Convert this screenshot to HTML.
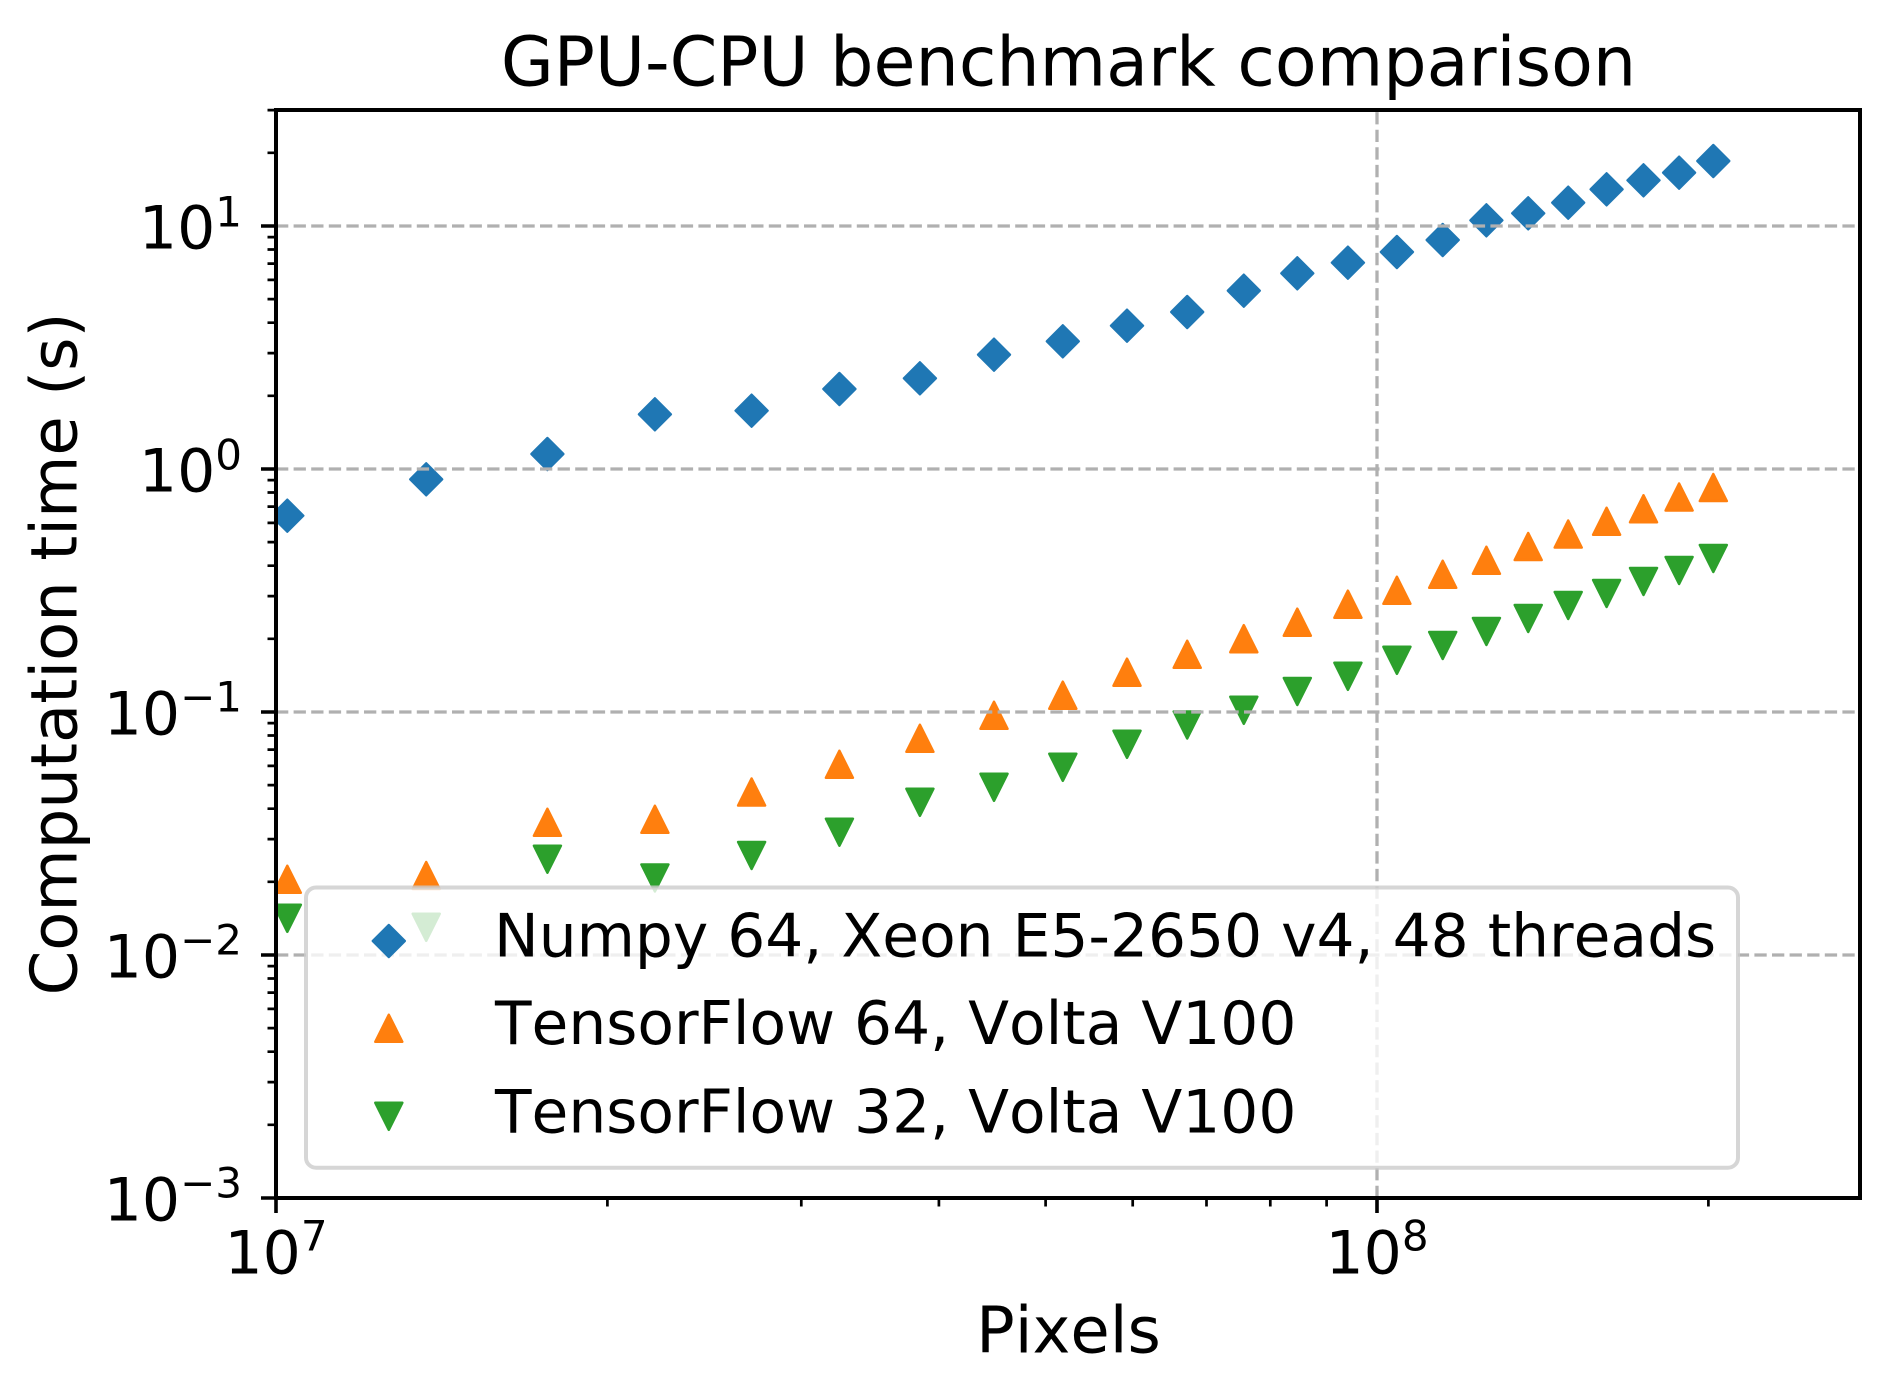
<!DOCTYPE html>
<html>
<head>
<meta charset="utf-8">
<style>
html,body{margin:0;padding:0;background:#fff;}
svg{display:block;}
text{font-family:"DejaVu Sans","Liberation Sans",sans-serif;fill:#000;font-kerning:none;}
</style>
</head>
<body>
<svg width="1883" height="1392" viewBox="0 0 1883 1392" xmlns="http://www.w3.org/2000/svg">
<defs>
  <clipPath id="ax"><rect x="276" y="110" width="1584" height="1088"/></clipPath>
  <path id="dia" d="M0,-16 L16,0 L0,16 L-16,0 Z" fill="#1f77b4" stroke="#1f77b4" stroke-width="2.4" stroke-linejoin="round"/>
  <path id="tup" d="M0,-13.5 L13.5,13.5 L-13.5,13.5 Z" fill="#ff7f0e" stroke="#ff7f0e" stroke-width="2.5" stroke-linejoin="round"/>
  <path id="tdn" d="M0,13.5 L13.5,-13.5 L-13.5,-13.5 Z" fill="#2ca02c" stroke="#2ca02c" stroke-width="2.5" stroke-linejoin="round"/>
</defs>
<rect width="1883" height="1392" fill="#fff"/>

<!-- data -->
<g clip-path="url(#ax)">
  <g>
    <use href="#dia" x="287.3" y="515.7"/><use href="#dia" x="426.2" y="479.3"/><use href="#dia" x="547.4" y="454"/>
    <use href="#dia" x="654.9" y="414.3"/><use href="#dia" x="751.6" y="410.7"/><use href="#dia" x="839.4" y="389"/>
    <use href="#dia" x="919.9" y="378.3"/><use href="#dia" x="994" y="354.7"/><use href="#dia" x="1062.8" y="341.3"/>
    <use href="#dia" x="1127" y="325.7"/><use href="#dia" x="1187.2" y="312"/><use href="#dia" x="1243.8" y="290.7"/>
    <use href="#dia" x="1297.3" y="273.3"/><use href="#dia" x="1347.9" y="262.7"/><use href="#dia" x="1396.9" y="252"/>
    <use href="#dia" x="1442.7" y="240"/><use href="#dia" x="1486.4" y="220.3"/><use href="#dia" x="1528.2" y="213.3"/>
    <use href="#dia" x="1568.2" y="202.7"/><use href="#dia" x="1606.6" y="189.3"/><use href="#dia" x="1643.5" y="180.3"/>
    <use href="#dia" x="1679.1" y="172.7"/><use href="#dia" x="1713.3" y="161"/>
  </g>
  <g>
    <use href="#tup" x="287.3" y="879.3"/><use href="#tup" x="426.2" y="875.5"/><use href="#tup" x="547.4" y="822.3"/>
    <use href="#tup" x="654.9" y="819.3"/><use href="#tup" x="751.6" y="792"/><use href="#tup" x="839.4" y="764.3"/>
    <use href="#tup" x="919.9" y="738.3"/><use href="#tup" x="994" y="715.3"/><use href="#tup" x="1062.8" y="695.2"/>
    <use href="#tup" x="1127" y="672.2"/><use href="#tup" x="1187.2" y="654.3"/><use href="#tup" x="1243.8" y="638.7"/>
    <use href="#tup" x="1297.3" y="622.2"/><use href="#tup" x="1347.9" y="604.2"/><use href="#tup" x="1396.9" y="590.3"/>
    <use href="#tup" x="1442.7" y="574.3"/><use href="#tup" x="1486.4" y="560.3"/><use href="#tup" x="1528.2" y="546.5"/>
    <use href="#tup" x="1568.2" y="534"/><use href="#tup" x="1606.6" y="521.3"/><use href="#tup" x="1643.5" y="508.8"/>
    <use href="#tup" x="1679.1" y="497"/><use href="#tup" x="1713.3" y="487.5"/>
  </g>
  <g>
    <use href="#tdn" x="287.3" y="918.3"/><use href="#tdn" x="426.2" y="927.3"/><use href="#tdn" x="547.4" y="859.2"/>
    <use href="#tdn" x="654.9" y="878"/><use href="#tdn" x="751.6" y="855.5"/><use href="#tdn" x="839.4" y="832.2"/>
    <use href="#tdn" x="919.9" y="802.3"/><use href="#tdn" x="994" y="787.3"/><use href="#tdn" x="1062.8" y="767.3"/>
    <use href="#tdn" x="1127" y="744.3"/><use href="#tdn" x="1187.2" y="725"/><use href="#tdn" x="1243.8" y="710.3"/>
    <use href="#tdn" x="1297.3" y="691.5"/><use href="#tdn" x="1347.9" y="676.3"/><use href="#tdn" x="1396.9" y="660.3"/>
    <use href="#tdn" x="1442.7" y="645.5"/><use href="#tdn" x="1486.4" y="631.5"/><use href="#tdn" x="1528.2" y="618.5"/>
    <use href="#tdn" x="1568.2" y="605.5"/><use href="#tdn" x="1606.6" y="593.5"/><use href="#tdn" x="1643.5" y="581.5"/>
    <use href="#tdn" x="1679.1" y="570.5"/><use href="#tdn" x="1713.3" y="558.5"/>
  </g>
</g>

<!-- grid -->
<g stroke="#b0b0b0" stroke-width="3.3" stroke-dasharray="12.3 5.3" fill="none">
  <path d="M276 226 H1860"/>
  <path d="M276 469 H1860"/>
  <path d="M276 712 H1860"/>
  <path d="M276 955 H1860"/>
  <path d="M1377 1198 V110"/>
</g>

<!-- spines -->
<rect x="276" y="110" width="1584" height="1088" fill="none" stroke="#000" stroke-width="4"/>

<!-- ticks -->
<g stroke="#000" stroke-width="3.6">
  <path d="M261 226 H276 M261 469 H276 M261 712 H276 M261 955 H276 M261 1198 H276"/>
  <path d="M276 1198 V1213 M1377 1198 V1213"/>
</g>
<g stroke="#000" stroke-width="2.7">
  <path d="M267.5 1124.8H276M267.5 1082.1H276M267.5 1051.7H276M267.5 1028.1H276M267.5 1008.9H276M267.5 992.6H276M267.5 978.5H276M267.5 966.1H276
           M267.5 881.8H276M267.5 839.1H276M267.5 808.7H276M267.5 785.1H276M267.5 765.9H276M267.5 749.6H276M267.5 735.5H276M267.5 723.1H276
           M267.5 638.8H276M267.5 596.1H276M267.5 565.7H276M267.5 542.1H276M267.5 522.9H276M267.5 506.6H276M267.5 492.5H276M267.5 480.1H276
           M267.5 395.8H276M267.5 353.1H276M267.5 322.7H276M267.5 299.1H276M267.5 279.9H276M267.5 263.6H276M267.5 249.5H276M267.5 237.1H276
           M267.5 152.8H276M267.5 110.1H276"/>
  <path d="M607.4 1198V1206.5M801.3 1198V1206.5M938.9 1198V1206.5M1045.6 1198V1206.5M1132.7 1198V1206.5M1206.5 1198V1206.5M1270.3 1198V1206.5M1326.6 1198V1206.5M1708.4 1198V1206.5"/>
</g>

<!-- legend -->
<rect x="306" y="887.5" width="1432" height="280.2" rx="10" ry="10" fill="#fff" fill-opacity="0.8" stroke="#cccccc" stroke-opacity="0.8" stroke-width="4"/>
<use href="#dia" x="388.8" y="941"/>
<use href="#tup" x="388.8" y="1028.3"/>
<use href="#tdn" x="388.8" y="1116.3"/>
<g font-size="59.8">
  <text x="494" y="956.7">Numpy 64, Xeon E5-2650 v4, 48 threads</text>
  <text x="495" y="1044">TensorFlow 64, Volta V100</text>
  <text x="495" y="1132.3">TensorFlow 32, Volta V100</text>
</g>

<!-- y tick labels -->
<g font-size="60" text-anchor="end">
  <text x="242" y="248.3">10<tspan font-size="42" dy="-22">1</tspan></text>
  <text x="242" y="491.3">10<tspan font-size="42" dy="-22">0</tspan></text>
  <text x="242" y="734.3">10<tspan font-size="42" dy="-23">−1</tspan></text>
  <text x="242" y="977.3">10<tspan font-size="42" dy="-23">−2</tspan></text>
  <text x="242" y="1220.3">10<tspan font-size="42" dy="-23">−3</tspan></text>
</g>

<!-- x tick labels -->
<g font-size="60" text-anchor="middle">
  <text x="276" y="1273.3">10<tspan font-size="42" dy="-23">7</tspan></text>
  <text x="1377" y="1273.3">10<tspan font-size="42" dy="-23">8</tspan></text>
</g>

<!-- axis labels -->
<text x="1068.5" y="1352.7" font-size="64" text-anchor="middle">Pixels</text>
<text transform="translate(76.7,654) rotate(-90)" font-size="64" text-anchor="middle">Computation time (s)</text>

<!-- title -->
<text x="1068.5" y="85.7" font-size="68.3" text-anchor="middle">GPU-CPU benchmark comparison</text>
</svg>
</body>
</html>
